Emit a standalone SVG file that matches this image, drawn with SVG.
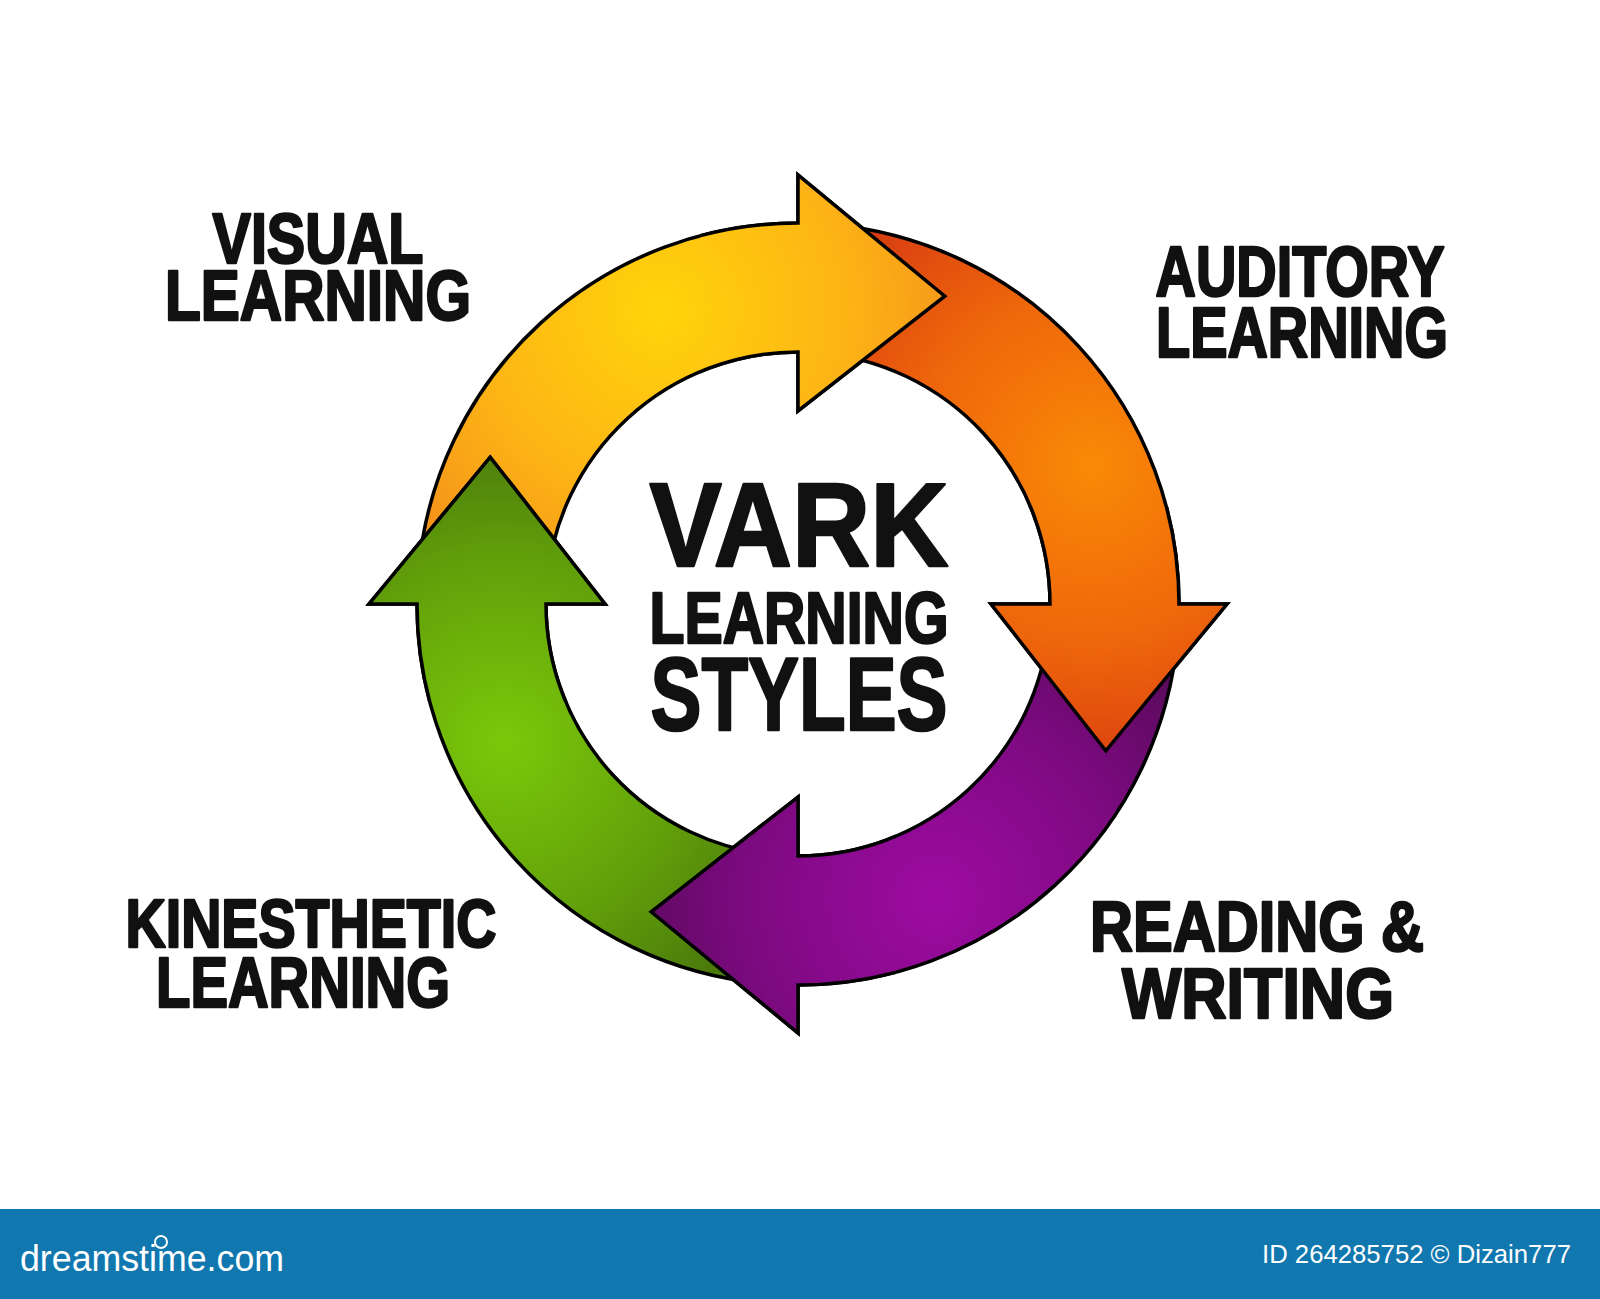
<svg xmlns="http://www.w3.org/2000/svg" xmlns:xlink="http://www.w3.org/1999/xlink" width="1600" height="1299" viewBox="0 0 1600 1299">
<defs>
<style>
.lbl{font-family:"Liberation Sans",Arial,sans-serif;font-weight:700;fill:#111;stroke:#111;stroke-width:2.5;stroke-linejoin:round;text-anchor:middle}
.arrow{stroke:#000;stroke-width:3.5;stroke-linejoin:miter}
.foot{font-family:"Liberation Sans",Arial,sans-serif;fill:#fff}
</style>
<path id="arrowShape" d="M 418.45,570.79 A 381 381 0 0 1 798,223 L 798,175 L 944.8,296.2 L 798,411 L 798,352 A 252 252 0 0 0 546.96,582.04 Z"/>
<radialGradient id="gY" gradientUnits="userSpaceOnUse" cx="660" cy="310" r="330">
<stop offset="0" stop-color="#FFD40A"/><stop offset="0.55" stop-color="#FDB515"/><stop offset="1" stop-color="#F3901A"/>
</radialGradient>
<radialGradient id="gO" gradientUnits="userSpaceOnUse" cx="660" cy="310" r="330">
<stop offset="0" stop-color="#FA8A06"/><stop offset="0.55" stop-color="#EE650B"/><stop offset="1" stop-color="#D63A12"/>
</radialGradient>
<radialGradient id="gP" gradientUnits="userSpaceOnUse" cx="660" cy="310" r="330">
<stop offset="0" stop-color="#9E0BA2"/><stop offset="0.55" stop-color="#7E0A82"/><stop offset="1" stop-color="#580A5A"/>
</radialGradient>
<radialGradient id="gG" gradientUnits="userSpaceOnUse" cx="660" cy="310" r="330">
<stop offset="0" stop-color="#7BC80A"/><stop offset="0.55" stop-color="#62A00A"/><stop offset="1" stop-color="#47730C"/>
</radialGradient>
<clipPath id="clipHead"><rect x="700" y="150" width="300" height="300"/></clipPath>
</defs>
<rect width="1600" height="1299" fill="#fff"/>

<g id="connectors">
<g id="arrow-visual"><use xlink:href="#arrowShape" href="#arrowShape" class="arrow" fill="url(#gY)"/></g>
<g id="arrow-auditory"><use xlink:href="#arrowShape" href="#arrowShape" class="arrow" fill="url(#gO)" transform="rotate(90 798 604)"/></g>
<g id="arrow-reading"><use xlink:href="#arrowShape" href="#arrowShape" class="arrow" fill="url(#gP)" transform="rotate(180 798 604)"/></g>
<g id="arrow-kinesthetic"><use xlink:href="#arrowShape" href="#arrowShape" class="arrow" fill="url(#gG)" transform="rotate(270 798 604)"/></g>
<g id="arrow-heads">
<g transform="rotate(0 798 604)"><use xlink:href="#arrowShape" href="#arrowShape" class="arrow" fill="url(#gY)" clip-path="url(#clipHead)"/></g>
<g transform="rotate(90 798 604)"><use xlink:href="#arrowShape" href="#arrowShape" class="arrow" fill="url(#gO)" clip-path="url(#clipHead)"/></g>
<g transform="rotate(180 798 604)"><use xlink:href="#arrowShape" href="#arrowShape" class="arrow" fill="url(#gP)" clip-path="url(#clipHead)"/></g>
<g transform="rotate(270 798 604)"><use xlink:href="#arrowShape" href="#arrowShape" class="arrow" fill="url(#gG)" clip-path="url(#clipHead)"/></g>
</g>
</g>

<g id="center-title">
<text class="lbl" x="799" y="566" font-size="118" textLength="299" lengthAdjust="spacingAndGlyphs">VARK</text>
<text class="lbl" x="799" y="643" font-size="72" textLength="299" lengthAdjust="spacingAndGlyphs">LEARNING</text>
<text class="lbl" x="799" y="730" font-size="104" textLength="297" lengthAdjust="spacingAndGlyphs">STYLES</text>
</g>

<g id="label-visual">
<text class="lbl" x="318" y="263" font-size="70" textLength="211" lengthAdjust="spacingAndGlyphs">VISUAL</text>
<text class="lbl" x="318" y="320" font-size="70" textLength="306" lengthAdjust="spacingAndGlyphs">LEARNING</text>
</g>

<g id="label-auditory">
<text class="lbl" x="1300" y="296" font-size="70" textLength="289" lengthAdjust="spacingAndGlyphs">AUDITORY</text>
<text class="lbl" x="1302" y="357" font-size="70" textLength="292" lengthAdjust="spacingAndGlyphs">LEARNING</text>
</g>

<g id="label-kinesthetic">
<text class="lbl" x="311" y="947" font-size="68" textLength="371" lengthAdjust="spacingAndGlyphs">KINESTHETIC</text>
<text class="lbl" x="303" y="1007" font-size="70" textLength="294" lengthAdjust="spacingAndGlyphs">LEARNING</text>
</g>

<g id="label-reading">
<text class="lbl" x="1257" y="951" font-size="70" textLength="334" lengthAdjust="spacingAndGlyphs">READING &amp;</text>
<text class="lbl" x="1258" y="1018" font-size="70" textLength="272" lengthAdjust="spacingAndGlyphs">WRITING</text>
</g>

<g id="footer">
<rect x="0" y="1209" width="1600" height="90" fill="#1177AF"/>
<text class="foot" x="20" y="1271" font-size="36" textLength="264" lengthAdjust="spacingAndGlyphs">dreamstime.com</text>
<circle cx="161" cy="1242" r="6" fill="none" stroke="#fff" stroke-width="2"/>
<text class="foot" x="1571" y="1263" font-size="26" text-anchor="end" textLength="309" lengthAdjust="spacingAndGlyphs">ID 264285752 © Dizain777</text>
</g>
</svg>
